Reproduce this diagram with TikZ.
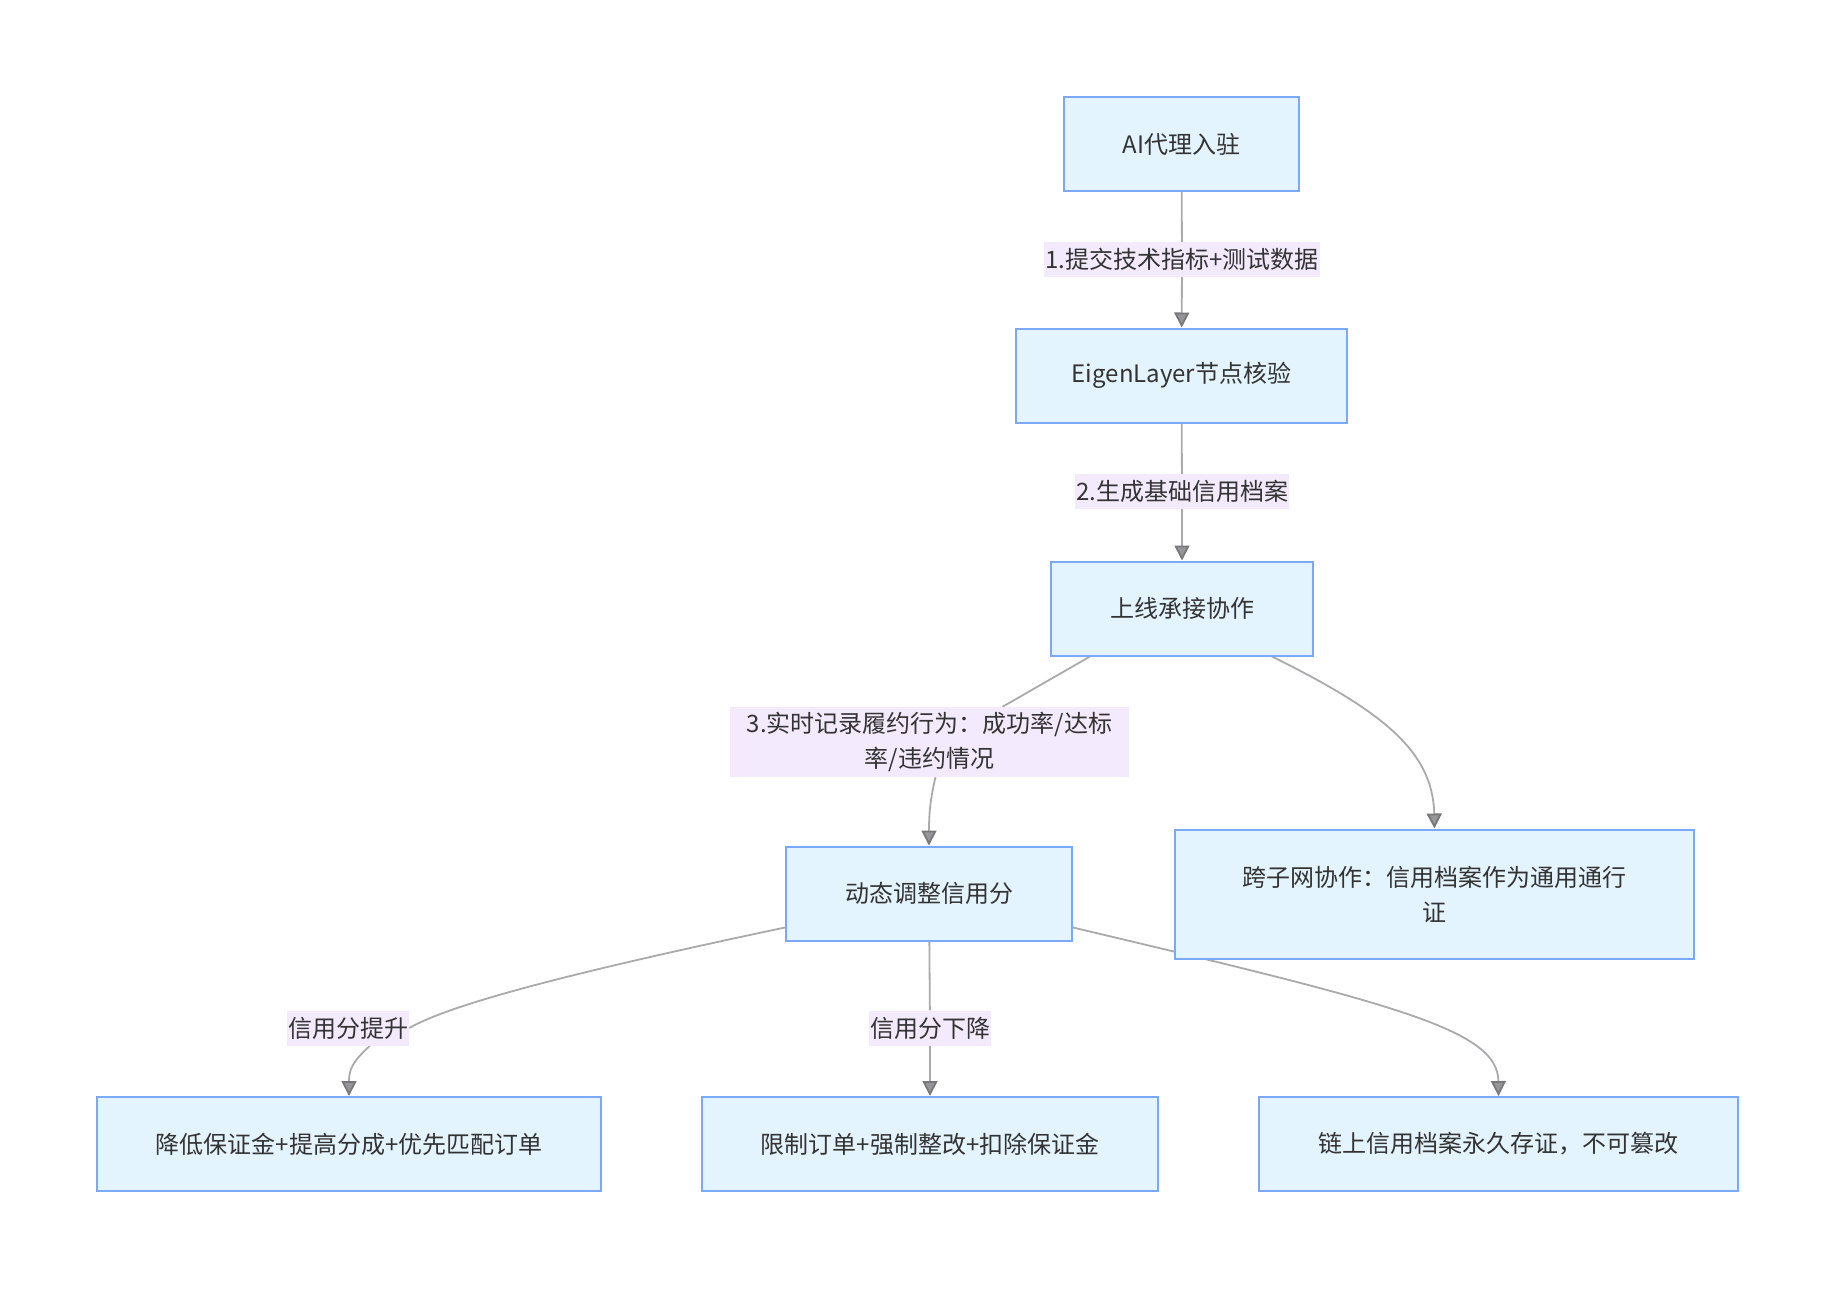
\documentclass[tikz,border=0pt]{standalone}
\usepackage{fontspec}
\setmainfont{Noto Sans CJK SC}
\usetikzlibrary{arrows.meta,calc,backgrounds}

\definecolor{boxfill}{RGB}{228,244,254}
\definecolor{boxborder}{RGB}{122,168,250}
\definecolor{lblfill}{RGB}{243,234,253}
\definecolor{linegray}{RGB}{170,170,172}
\definecolor{tipgray}{RGB}{150,150,152}
\definecolor{textgray}{RGB}{51,51,51}

\tikzset{
	box/.style={draw=boxborder, fill=boxfill, line width=2pt, rectangle, minimum height=94pt,
		text centered, align=center, text=textgray, font=\fontsize{24}{35}\selectfont},
	lbl/.style={fill=lblfill, rectangle, inner xsep=1pt, inner ysep=0pt, minimum height=35pt,
		align=center, text=textgray, font=\fontsize{24}{35}\selectfont},
	plain/.style={draw=linegray, line width=1.8pt},
	link/.style={plain, -{Triangle[length=15pt,width=15pt,fill=tipgray,color=tipgray!80!black]}}
}

\begin{document}
\begin{tikzpicture}[x=1pt,y=-1pt]
		
		\useasboundingbox (0,0) rectangle (1834,1288);
		
		%Nodes
		\node (aiAgent) at (1181.5,144) [box, minimum width=235pt]{AI代理入驻};
		\node (eigenCheck) at (1181.5,375.5) [box, minimum width=331pt]{EigenLayer节点核验};
		\node (goOnline) at (1182,608.5) [box, minimum width=262pt]{上线承接协作};
		
		%Second row
		\node (dynScore) at (929,893.5) [box, minimum width=286pt]{动态调整信用分};
		\node (crossNet) at (1434.5,894) [box, minimum width=519pt, minimum height=129pt]
		{跨子网协作：信用档案作为通用通行\\证};
		
		%Results
		\node (lowerDeposit) at (349,1144) [box, minimum width=504pt]{降低保证金+提高分成+优先匹配订单};
		\node (restrictOrder) at (930,1144) [box, minimum width=456pt]{限制订单+强制整改+扣除保证金};
		\node (chainRecord) at (1498.5,1144) [box, minimum width=479pt]{链上信用档案永久存证，不可篡改};
		
		%Labels
		\node (lblSubmit) at (1182,259.5) [lbl, minimum width=274pt]{1.提交技术指标+测试数据};
		\node (lblProfile) at (1182,491.5) [lbl, minimum width=213pt]{2.生成基础信用档案};
		\node (lblRecord) at (929.5,742) [lbl, minimum width=399pt, minimum height=70pt]
		{3.实时记录履约行为：成功率/达标\\率/违约情况};
		\node (lblUp) at (348,1028) [lbl, minimum width=118pt]{信用分提升};
		\node (lblDown) at (930,1028) [lbl, minimum width=120pt]{信用分下降};
		
		%Links
		\begin{scope}[on background layer]
		\draw[plain] (aiAgent) -- (lblSubmit);
		\draw[link] (lblSubmit) -- (eigenCheck);
		\draw[plain] (eigenCheck) -- (lblProfile);
		\draw[link] (lblProfile) -- (goOnline);
		\draw[plain] ($(goOnline.south)+(-92,0)$) -- ($(lblRecord.north)+(73,0)$);
		\draw[link] ($(lblRecord.south)+(6,0)$) .. controls (930,800) and (929,815) .. (dynScore.north);
		\draw[link] ($(goOnline.south)+(90,0)$) .. controls (1380,710) and (1433,750) .. (crossNet.north);
		\draw[plain] ($(dynScore.west)+(0,34)$) .. controls (560,975) and (450,1005) .. (lblUp.east);
		\draw[link] ($(lblUp.south)+(22,0)$) .. controls (352,1062) and (349,1070) .. (lowerDeposit.north);
		\draw[plain] (dynScore) -- (lblDown);
		\draw[link] (lblDown) -- (restrictOrder);
		\draw[link] ($(dynScore.east)+(0,34)$) .. controls (1400,1005) and (1498,1030) .. (chainRecord.north);
		\end{scope}
		
\end{tikzpicture}
\end{document}
